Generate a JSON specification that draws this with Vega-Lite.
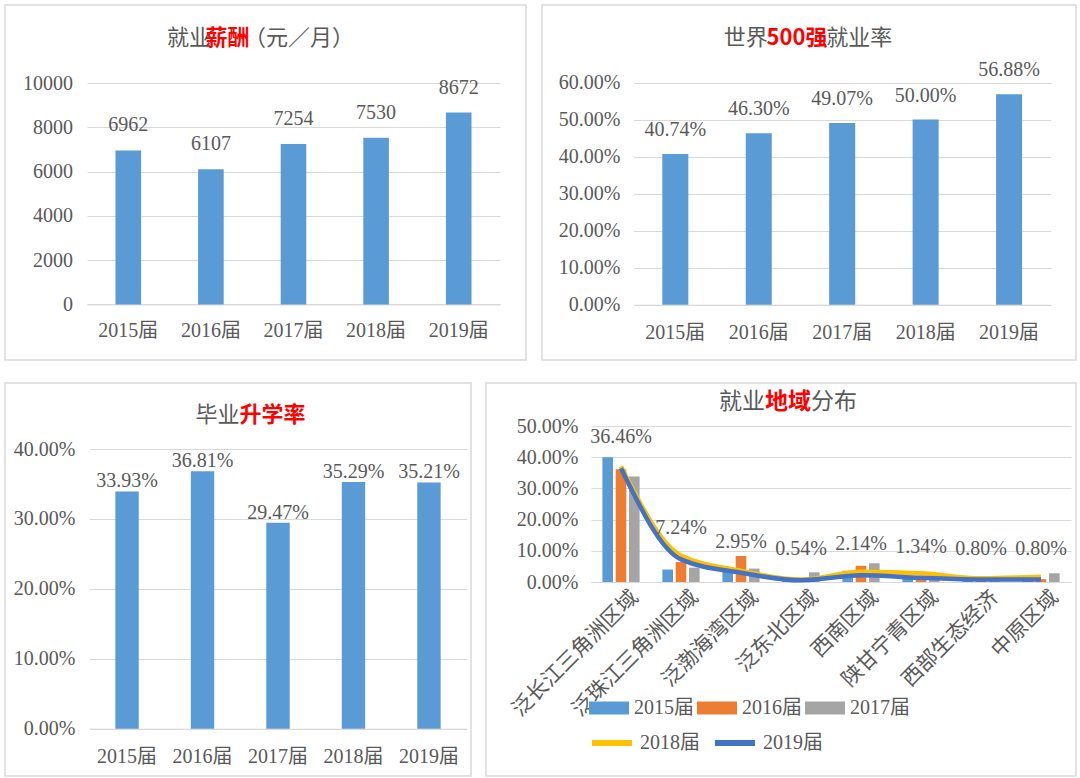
{
  "$schema": "https://vega.github.io/schema/vega-lite/v6.json",
  "background": "white",
  "padding": {"left": 4, "top": 4, "right": 0, "bottom": 0},
  "spacing": 21,
  "datasets": {
    "salary": [
      {"yr": "2015届", "v": 6962}, {"yr": "2016届", "v": 6107}, {"yr": "2017届", "v": 7254}, {"yr": "2018届", "v": 7530}, {"yr": "2019届", "v": 8672}
    ],
    "top500": [
      {"yr": "2015届", "v": 0.4074}, {"yr": "2016届", "v": 0.4630}, {"yr": "2017届", "v": 0.4907}, {"yr": "2018届", "v": 0.5000}, {"yr": "2019届", "v": 0.5688}
    ],
    "study": [
      {"yr": "2015届", "v": 0.3393}, {"yr": "2016届", "v": 0.3681}, {"yr": "2017届", "v": 0.2947}, {"yr": "2018届", "v": 0.3529}, {"yr": "2019届", "v": 0.3521}
    ],
    "region": [
      {"region": "泛长江三角洲区域", "yr": "2015届", "v": 0.400},
      {"region": "泛长江三角洲区域", "yr": "2016届", "v": 0.361},
      {"region": "泛长江三角洲区域", "yr": "2017届", "v": 0.338},
      {"region": "泛长江三角洲区域", "yr": "2018届", "v": 0.371},
      {"region": "泛长江三角洲区域", "yr": "2019届", "v": 0.3646},
      {"region": "泛珠江三角洲区域", "yr": "2015届", "v": 0.040},
      {"region": "泛珠江三角洲区域", "yr": "2016届", "v": 0.064},
      {"region": "泛珠江三角洲区域", "yr": "2017届", "v": 0.046},
      {"region": "泛珠江三角洲区域", "yr": "2018届", "v": 0.085},
      {"region": "泛珠江三角洲区域", "yr": "2019届", "v": 0.0724},
      {"region": "泛渤海湾区域", "yr": "2015届", "v": 0.032},
      {"region": "泛渤海湾区域", "yr": "2016届", "v": 0.083},
      {"region": "泛渤海湾区域", "yr": "2017届", "v": 0.043},
      {"region": "泛渤海湾区域", "yr": "2018届", "v": 0.036},
      {"region": "泛渤海湾区域", "yr": "2019届", "v": 0.0295},
      {"region": "泛东北区域", "yr": "2015届", "v": 0.003},
      {"region": "泛东北区域", "yr": "2016届", "v": 0.003},
      {"region": "泛东北区域", "yr": "2017届", "v": 0.031},
      {"region": "泛东北区域", "yr": "2018届", "v": 0.008},
      {"region": "泛东北区域", "yr": "2019届", "v": 0.0054},
      {"region": "西南区域", "yr": "2015届", "v": 0.036},
      {"region": "西南区域", "yr": "2016届", "v": 0.052},
      {"region": "西南区域", "yr": "2017届", "v": 0.060},
      {"region": "西南区域", "yr": "2018届", "v": 0.033},
      {"region": "西南区域", "yr": "2019届", "v": 0.0214},
      {"region": "陕甘宁青区域", "yr": "2015届", "v": 0.011},
      {"region": "陕甘宁青区域", "yr": "2016届", "v": 0.008},
      {"region": "陕甘宁青区域", "yr": "2017届", "v": 0.009},
      {"region": "陕甘宁青区域", "yr": "2018届", "v": 0.028},
      {"region": "陕甘宁青区域", "yr": "2019届", "v": 0.0134},
      {"region": "西部生态经济", "yr": "2015届", "v": 0.004},
      {"region": "西部生态经济", "yr": "2016届", "v": 0.004},
      {"region": "西部生态经济", "yr": "2017届", "v": 0.004},
      {"region": "西部生态经济", "yr": "2018届", "v": 0.012},
      {"region": "西部生态经济", "yr": "2019届", "v": 0.0080},
      {"region": "中原区域", "yr": "2015届", "v": 0.004},
      {"region": "中原区域", "yr": "2016届", "v": 0.009},
      {"region": "中原区域", "yr": "2017届", "v": 0.028},
      {"region": "中原区域", "yr": "2018届", "v": 0.017},
      {"region": "中原区域", "yr": "2019届", "v": 0.0080}
    ]
  },
  "config": {
    "view": {"stroke": "#d9d9d9", "strokeWidth": 1.5},
    "axis": {
      "labelFont": "Liberation Serif, Noto Sans CJK SC",
      "labelFontSize": 20,
      "labelColor": "#595959",
      "ticks": false,
      "tickSize": 0,
      "domain": false,
      "gridColor": "#d9d9d9",
      "gridWidth": 1,
      "minExtent": 0
    },
    "axisX": {"domain": true, "domainColor": "#d9d9d9", "domainWidth": 1, "grid": false, "labelAngle": 0},
    "axisY": {"grid": true, "labelPadding": 0},
    "title": {
      "font": "Noto Sans CJK SC",
      "fontSize": 22,
      "fontWeight": "normal",
      "color": "#595959",
      "subtitleFont": "Noto Sans CJK SC",
      "subtitleFontSize": 22,
      "subtitleFontWeight": "bold",
      "subtitleColor": "#ff0000",
      "subtitlePadding": -22,
      "anchor": "middle",
      "frame": "group"
    }
  },
  "vconcat": [
    {
      "spacing": 14,
      "hconcat": [
        {
          "width": 521,
          "height": 355,
          "title": {"text": "\u200b就业　　（元／月）\u200b", "subtitle": "\u200b　　薪酬　　　　　\u200b", "offset": -45, "dx": -5},
          "data": {"name": "salary"},
          "encoding": {
            "x": {"field": "yr", "type": "nominal", "sort": null, "title": null,
              "scale": {"range": [82, 495], "paddingInner": 0.69, "paddingOuter": 0.345},
              "axis": {"offset": -55.6, "labelPadding": 16}},
            "y": {"field": "v", "type": "quantitative", "title": null,
              "scale": {"domain": [0, 10000], "range": [299.4, 78.2], "nice": false},
              "axis": {"offset": -67.6, "values": [0, 2000, 4000, 6000, 8000, 10000], "format": "d"}}
          },
          "layer": [
            {"mark": {"type": "bar", "color": "#5b9bd5"}},
            {"mark": {"type": "text", "dy": -25, "font": "Liberation Serif", "fontSize": 20, "color": "#595959"},
             "encoding": {"text": {"field": "v", "type": "quantitative", "format": "d"}}}
          ]
        },
        {
          "width": 534,
          "height": 355,
          "title": {"text": "\u200b世界　　\u2002\u2006就业率\u200b", "subtitle": "\u200b　　500强　　　\u200b", "offset": -45, "dx": -1},
          "data": {"name": "top500"},
          "encoding": {
            "x": {"field": "yr", "type": "nominal", "sort": null, "title": null,
              "scale": {"range": [91.6, 508.8], "paddingInner": 0.688, "paddingOuter": 0.344},
              "axis": {"offset": -55.3, "labelPadding": 17.7}},
            "y": {"field": "v", "type": "quantitative", "title": null,
              "scale": {"domain": [0, 0.6], "range": [299.7, 77.6], "nice": false},
              "axis": {"offset": -77.8, "values": [0, 0.1, 0.2, 0.3, 0.4, 0.5, 0.6], "format": ".2%"}}
          },
          "layer": [
            {"mark": {"type": "bar", "color": "#5b9bd5"}},
            {"mark": {"type": "text", "dy": -24, "font": "Liberation Serif", "fontSize": 20, "color": "#595959"},
             "encoding": {"text": {"field": "v", "type": "quantitative", "format": ".2%"}}}
          ]
        }
      ]
    },
    {
      "spacing": 13,
      "hconcat": [
        {
          "width": 466,
          "height": 393,
          "title": {"text": "\u200b毕业　　　\u200b", "subtitle": "\u200b　　升学率\u200b", "offset": -43.6, "dx": 12.5},
          "data": {"name": "study"},
          "encoding": {
            "x": {"field": "yr", "type": "nominal", "sort": null, "title": null,
              "scale": {"range": [84.3, 461.7], "paddingInner": 0.69, "paddingOuter": 0.345},
              "axis": {"offset": -47.3, "labelPadding": 17.4}},
            "y": {"field": "v", "type": "quantitative", "title": null,
              "scale": {"domain": [0, 0.4], "range": [345.7, 66], "nice": false},
              "axis": {"offset": -70, "values": [0, 0.1, 0.2, 0.3, 0.4], "format": ".2%"}}
          },
          "layer": [
            {"mark": {"type": "bar", "color": "#5b9bd5"}},
            {"mark": {"type": "text", "dy": -10, "font": "Liberation Serif", "fontSize": 20, "color": "#595959"},
             "encoding": {"text": {"field": "v", "type": "quantitative", "format": ".2%"}}}
          ]
        },
        {
          "width": 590,
          "height": 393,
          "title": {"text": "\u200b就业　　分布\u200b", "subtitle": "\u200b　　地域　　\u200b", "fontSize": 23, "subtitleFontSize": 23, "subtitlePadding": -23, "offset": -31, "dx": 7},
          "data": {"name": "region"},
          "encoding": {
            "x": {"field": "region", "type": "nominal", "sort": null, "title": null,
              "scale": {"range": [105, 585], "paddingInner": 0.38, "paddingOuter": 0.19},
              "axis": {"offset": -194, "labelAngle": -45, "labelAlign": "right", "labelBaseline": "middle", "labelPadding": 12, "labelOffset": 14, "labelFont": "Noto Sans CJK SC", "labelFontSize": 21, "labelOverlap": false, "labelLimit": 300}},
            "y": {"field": "v", "type": "quantitative", "title": null,
              "scale": {"domain": [0, 0.5], "range": [199, 43], "nice": false},
              "axis": {"offset": -92, "values": [0, 0.1, 0.2, 0.3, 0.4, 0.5], "format": ".2%"}}
          },
          "layer": [
            {
              "transform": [{"filter": {"field": "yr", "oneOf": ["2015届", "2016届", "2017届"]}}],
              "mark": {"type": "bar"},
              "encoding": {
                "xOffset": {"field": "yr", "type": "nominal", "scale": {"paddingInner": 0.2, "paddingOuter": 0}},
                "fill": {"field": "yr", "type": "nominal",
                  "scale": {"domain": ["2015届", "2016届", "2017届"], "range": ["#5b9bd5", "#ed7d31", "#a5a5a5"]},
                  "legend": {"orient": "none", "legendX": 584, "legendY": 683, "direction": "horizontal", "columns": 3, "title": null,
                    "symbolType": "M-1,-0.32H1V0.32H-1Z", "symbolSize": 1600, "symbolStrokeWidth": 0,
                    "labelFont": "Liberation Serif, Noto Sans CJK SC", "labelFontSize": 20, "labelColor": "#595959",
                    "labelOffset": 5, "columnPadding": 3, "padding": 0}}
              }
            },
            {
              "transform": [{"filter": {"field": "yr", "equal": "2018届"}}],
              "mark": {"type": "line", "strokeWidth": 4.5, "interpolate": "monotone"},
              "encoding": {
                "stroke": {"field": "yr", "type": "nominal",
                  "scale": {"domain": ["2018届", "2019届"], "range": ["#ffc000", "#4472c4"]},
                  "legend": {"orient": "none", "legendX": 584, "legendY": 715, "direction": "horizontal", "columns": 3, "title": null,
                    "symbolType": "stroke", "symbolSize": 1600, "symbolStrokeWidth": 6,
                    "labelFont": "Liberation Serif, Noto Sans CJK SC", "labelFontSize": 20, "labelColor": "#595959",
                    "labelOffset": 5, "columnPadding": 3, "padding": 0}}
              }
            },
            {
              "transform": [{"filter": {"field": "yr", "equal": "2019届"}}],
              "mark": {"type": "line", "strokeWidth": 4.5, "interpolate": "monotone"},
              "encoding": {
                "stroke": {"field": "yr", "type": "nominal"}
              }
            },
            {
              "transform": [{"filter": {"field": "yr", "equal": "2019届"}}],
              "mark": {"type": "text", "dy": -31, "font": "Liberation Serif", "fontSize": 20, "color": "#595959"},
              "encoding": {"text": {"field": "v", "type": "quantitative", "format": ".2%"}}
            }
          ]
        }
      ]
    }
  ]
}
